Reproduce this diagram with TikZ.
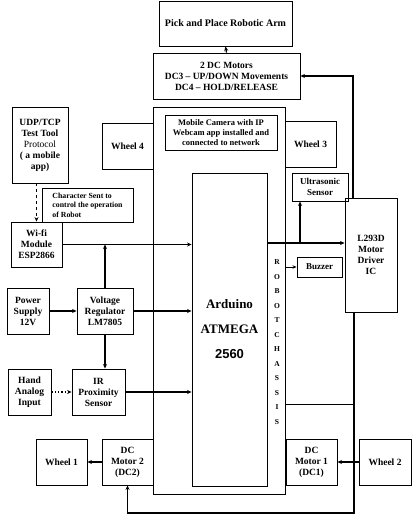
\documentclass[tikz,border=0pt]{standalone}
\usepackage{fontspec}
\setmainfont{Liberation Serif}
\newfontfamily\sansb{Liberation Sans}
\usetikzlibrary{arrows.meta,calc}
\newcommand{\fs}[2]{\fontsize{#1}{#2}\selectfont}
\tikzset{
  box/.style={draw, line width=0.9pt, inner sep=0pt, align=center, font=\bfseries\fs{9.5}{11}},
  conn/.style={line width=1.3pt},
  arr/.style={conn, -{Stealth[length=4.5pt,width=4pt]}},
}
\begin{document}
\begin{tikzpicture}[x=1pt,y=-1pt]
\useasboundingbox (0,0) rectangle (418,526);
\fill[white] (0,0) rectangle (418,526);
% nodes
\node[box, minimum width=133pt, minimum height=45pt, font=\bfseries\fs{10}{12}] (arm) at (225.5,23.5) {Pick and Place Robotic Arm};
\node[box, minimum width=147pt, minimum height=46pt] (dcm) at (226.5,76) {2 DC Motors\\DC3 -- UP/DOWN Movements\\DC4 -- HOLD/RELEASE};
\node[box, minimum width=132pt, minimum height=387pt] (chassis) at (219,300.5) {};
\node[box, minimum width=112pt, minimum height=35pt, font=\bfseries\fs{8.5}{10}] (cam) at (221,132.5) {Mobile Camera with IP\\Webcam app installed and\\connected to network};
\node[box, minimum width=51pt, minimum height=46pt] (w4) at (127.5,146) {Wheel 4};
\node[box, minimum width=51pt, minimum height=46pt] (w3) at (310.5,144) {Wheel 3};
\node[box, minimum width=56pt, minimum height=76pt] (udp) at (40,145) {UDP/TCP\\Test Tool\\{\mdseries Protocol}\\( a mobile\\app)};
\node[box, minimum width=91pt, minimum height=34pt, font=\bfseries\fs{7.8}{9.5}, align=left] (chr) at (87.5,205) {Character Sent to\\control the operation\\of Robot};
\node[box, minimum width=51pt, minimum height=45pt] (wifi) at (36.5,244.5) {Wi-fi\\Module\\ESP2866};
\node[box, minimum width=75pt, minimum height=313pt, font=\bfseries\fs{13}{25}] (ard) at (229.5,329.5) {Arduino\\ATMEGA\\{\sansb 2560}};
\node[box, minimum width=56pt, minimum height=28pt, font=\bfseries\fs{9}{11}] (ultra) at (320,187) {Ultrasonic\\Sensor};
\node[box, minimum width=45pt, minimum height=20pt, font=\bfseries\fs{9}{11}] (buzz) at (319.5,267) {Buzzer};
\node[box, minimum width=52pt, minimum height=114pt] (l293) at (371,255) {L293D\\Motor\\Driver\\IC};
\node[box, minimum width=42pt, minimum height=46pt] (pow) at (28,311) {Power\\Supply\\12V};
\node[box, minimum width=56pt, minimum height=46pt] (vr) at (105,311) {Voltage\\Regulator\\LM7805};
\node[box, minimum width=43pt, minimum height=46pt] (hand) at (29.5,392) {Hand\\Analog\\Input};
\node[box, minimum width=53pt, minimum height=46pt] (ir) at (98.5,392) {IR\\Proximity\\Sensor};
\node[box, minimum width=51pt, minimum height=46pt] (w1) at (61.5,462) {Wheel 1};
\node[box, minimum width=51pt, minimum height=46pt] (dc2) at (127.5,462) {DC\\Motor 2\\(DC2)};
\node[box, minimum width=51pt, minimum height=46pt] (dc1) at (311.5,462) {DC\\Motor 1\\(DC1)};
\node[box, minimum width=52pt, minimum height=46pt] (w2) at (385,462) {Wheel 2};
\node[inner sep=0pt, align=center, font=\bfseries\fs{7.5}{14.5}] (rc) at (277,342) {R\\O\\B\\O\\T\\C\\H\\A\\S\\S\\I\\S};
% coordinates
\coordinate (j) at (300,243);
\coordinate (lt) at (353,198);
\coordinate (lb) at (354,312);
\coordinate (mid) at (354,404);
\coordinate (bot) at (354,513);
% connectors
\draw[arr] (dcm.north) -- (arm.south);
\draw[arr] (lt) |- (dcm.east);
\draw[arr, dashed, line width=1.1pt] (wifi.north |- udp.south) -- (wifi.north);
\draw[arr] (wifi.east) -- (wifi.east -| ard.west);
\draw[arr] (vr.north) -- (vr.north |- wifi.east);
\draw[arr] (pow.east) -- (vr.west);
\draw[arr] (vr.east) -- (vr.east -| ard.west);
\draw[arr] (vr.south) -- (vr.south |- ir.north);
\draw[arr, dotted, line width=1.6pt] (hand.east) -- (ir.west);
\draw[arr] (ir.east) -- (ir.east -| ard.west);
\draw[arr] (j -| ard.east) -- (j -| l293.west);
\draw[arr] (j) -- (j |- ultra.south);
\draw[-{Stealth[length=4pt,width=3.5pt]}, line width=0.9pt] (chassis.east |- buzz.west) -- (buzz.west);
\draw[line width=0.9pt] (mid -| chassis.east) -- (mid);
\draw[arr] (lb) -- (bot) -| (dc2.south);
\draw[arr] (w2.west) -- (dc1.east);
\draw[arr] (dc2.west) -- (w1.east);
\end{tikzpicture}
\end{document}
